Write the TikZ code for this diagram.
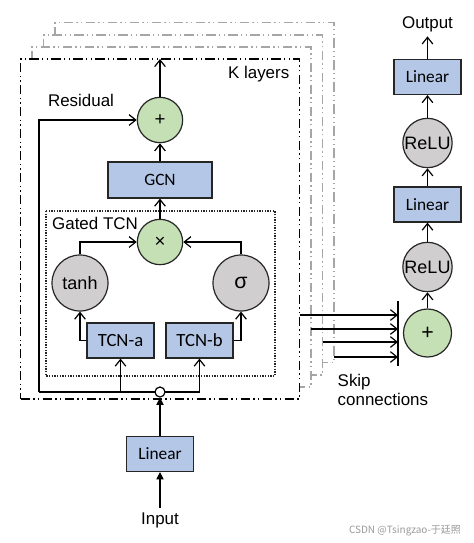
\documentclass[tikz,border=0pt]{standalone}
\usepackage{fontspec}
\setmainfont{Liberation Sans}
\newfontfamily\boxfont{Carlito}
\newfontfamily\cjkfont{Noto Sans CJK SC}
\usepackage{tikz}
\usetikzlibrary{arrows.meta}
\definecolor{boxblue}{HTML}{B4C7E7}
\definecolor{opgreen}{HTML}{C5E0B4}
\definecolor{actgray}{HTML}{D0CECE}
\tikzstyle{layer} = [rectangle, minimum width=209.25pt, minimum height=255pt, inner sep=0pt, outer sep=0pt, fill=white]
\tikzstyle{frontlayer} = [layer, draw=black, line width=1.2pt, dash pattern=on 7pt off 2.5pt on 1pt off 2.5pt on 1pt off 2.5pt]
\tikzstyle{backlayer} = [layer, draw=gray!70, line width=1pt, dash pattern=on 7pt off 2.5pt on 1pt off 2.5pt on 1pt off 2.5pt]
\tikzstyle{block} = [rectangle, minimum width=50.25pt, minimum height=26.25pt, inner sep=0pt, draw=black!85, line width=0.9pt, fill=boxblue, font=\boxfont\fontsize{13}{15}\selectfont]
\tikzstyle{op} = [circle, minimum size=34pt, inner sep=0pt, draw=black!85, line width=0.9pt, fill=opgreen, font=\fontsize{14}{15}\selectfont]
\tikzstyle{act} = [circle, minimum size=37pt, inner sep=0pt, draw=black!85, line width=0.9pt, fill=actgray, font=\fontsize{13.5}{16}\selectfont]
\tikzstyle{txt} = [font=\fontsize{12.7}{14.5}\selectfont]
\tikzstyle{arrow} = [line width=0.9pt, -{Straight Barb[length=5pt,width=8pt]}]
\tikzstyle{feed} = [line width=0.9pt, -{Triangle[length=5.5pt,width=5.5pt]}]

\begin{document}
\begin{tikzpicture}[x=0.75pt, y=-0.75pt]
	\useasboundingbox (0,0) rectangle (474,543);
	% stacked layers
	\node[backlayer](layer_4) at (194.5,192.5){};
	\node[backlayer](layer_3) at (183,205){};
	\node[backlayer](layer_2) at (171.5,217){};
	\node[frontlayer](layer_1) at (160,229){};
	\node[txt, anchor=east](k_layers) at (294,74){K layers};
	
	% gated tcn
	\draw[black!85, line width=0.8pt, dash pattern=on 1pt off 1pt] (46,211) rectangle (275,376);
	\node[txt](gated_label) at (95,223){Gated TCN};
	\node[block, font=\boxfont\fontsize{14}{15}\selectfont](tcn_a) at (120.5,340.5){TCN-a};
	\node[block, font=\boxfont\fontsize{14}{15}\selectfont](tcn_b) at (199.5,340.5){TCN-b};
	\node[act, minimum size=42pt](tanh) at (80,283){tanh};
	\node[act, minimum size=42pt, font=\fontsize{16}{16}\selectfont](sigma) at (241,283){σ};
	\node[op](times) at (160,242){×};
	\node[block, minimum width=78pt, minimum height=27pt](gcn) at (160,180){GCN};
	\node[op](plus_res) at (160,120){+};
	\node[txt](residual) at (81,100){Residual};
	
	\coordinate (res_start) at (39,392);
	\draw[line width=0.9pt] (res_start) -- (tcn_b |- res_start);
	\node[circle, draw=black, line width=0.9pt, fill=white, minimum size=7.5pt, inner sep=0pt](split) at (160,392){};
	\draw[arrow] (res_start) |- (plus_res);
	\draw[arrow] (tcn_a |- res_start) -- (tcn_a);
	\draw[arrow] (tcn_b |- res_start) -- (tcn_b);
	\draw[arrow] (tcn_a.west) -| (tanh);
	\draw[arrow] (tcn_b.east) -| (sigma);
	\draw[arrow] (tanh) |- (times);
	\draw[arrow] (sigma) |- (times);
	\draw[arrow] (times) -- (gcn);
	\draw[arrow] (gcn) -- (plus_res);
	\draw[arrow] (plus_res) -- (plus_res |- layer_1.north);
	
	% input
	\node[block](linear_in) at (160,454){Linear};
	\node[txt](input) at (160,520){Input};
	\draw[feed] (input) -- (linear_in);
	\draw[feed] (linear_in) -- (split);
	
	% skip connections and output
	\coordinate (skip_top) at (398,301);
	\coordinate (skip_bottom) at (398,366);
	\coordinate (skip_1) at (398,315);
	\coordinate (skip_2) at (398,329);
	\coordinate (skip_3) at (398,342);
	\coordinate (skip_4) at (398,357);
	\draw[line width=0.9pt] (skip_top) -- (skip_bottom);
	\draw[arrow] (layer_1.east |- skip_1) -- (skip_1);
	\draw[arrow] (layer_2.east |- skip_2) -- (skip_2);
	\draw[arrow] (layer_3.east |- skip_3) -- (skip_3);
	\draw[arrow] (layer_4.east |- skip_4) -- (skip_4);
	\node[txt, anchor=west, align=left](skip_label) at (333,390){Skip\\connections};
	
	\node[op, minimum size=36pt, font=\fontsize{16}{16}\selectfont](plus_out) at (427.5,333){+};
	\node[act](relu_a) at (427.5,267){ReLU};
	\node[block](linear_a) at (427.5,204.5){Linear};
	\node[act](relu_b) at (427.5,143){ReLU};
	\node[block](linear_b) at (427.5,77){Linear};
	\node[txt](output) at (427.5,24){Output};
	
	\draw[arrow] (plus_out) -- (relu_a);
	\draw[arrow] (relu_a) -- (linear_a);
	\draw[arrow] (linear_a) -- (relu_b);
	\draw[arrow] (relu_b) -- (linear_b);
	\draw[arrow] (linear_b) -- (output);
	
	\node[text=black!40, font=\cjkfont\fontsize{7.5}{9}\selectfont](mark) at (405,531){CSDN @Tsingzao-于廷照};
\end{tikzpicture}
\end{document}
